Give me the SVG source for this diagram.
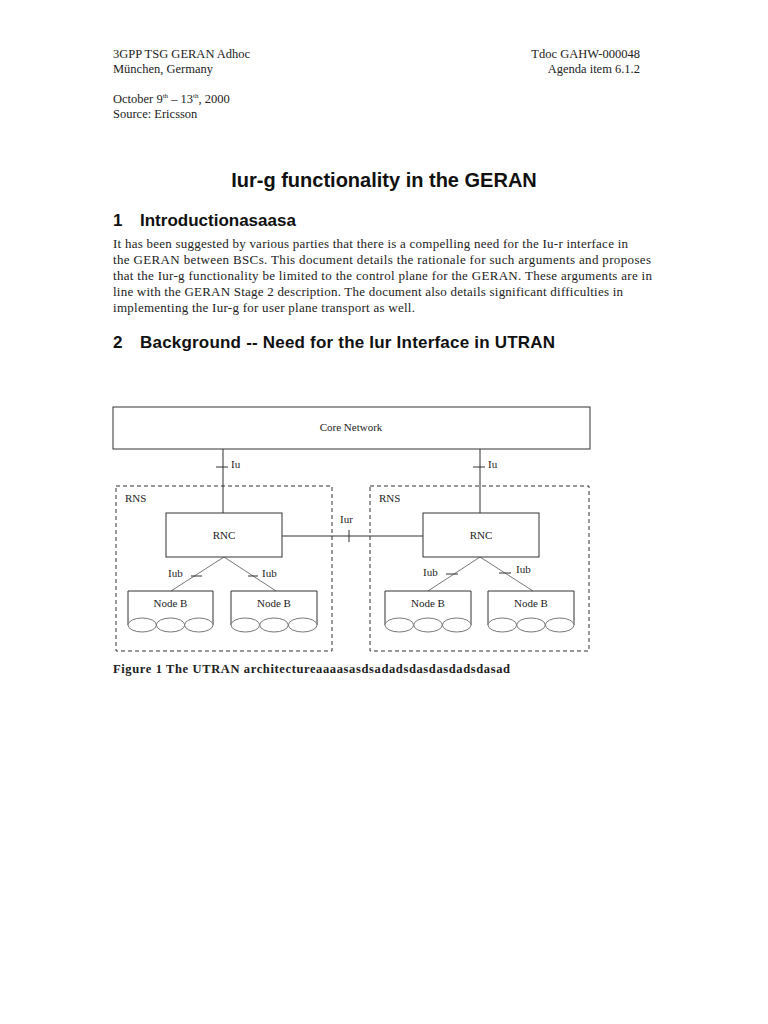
<svg xmlns="http://www.w3.org/2000/svg" width="768" height="1024" viewBox="0 0 768 1024">
<style>
.ser{font-family:"Liberation Serif","Times New Roman",serif;fill:#222}
.hdr{font-size:12.5px}
.body{font-size:13px}
.sans{font-family:"Liberation Sans",Arial,sans-serif;font-weight:bold;fill:#111}
.dg{font-family:"Liberation Serif","Times New Roman",serif;font-size:11px;fill:#222}
.box{fill:#fff;stroke:#333;stroke-width:1}
.ln{stroke:#333;stroke-width:1;fill:none}
.gl{stroke:#777;stroke-width:1;fill:none}
.dash{fill:none;stroke:#333;stroke-width:1;stroke-dasharray:4 3}
.ell{fill:#fff;stroke:#777;stroke-width:1}
</style>
<rect width="768" height="1024" fill="#fff"/>
<g id="header">
<text class="ser hdr" x="113" y="58">3GPP TSG GERAN Adhoc</text>
<text class="ser hdr" x="113" y="73">München, Germany</text>
<text class="ser hdr" x="640" y="58" text-anchor="end">Tdoc GAHW-000048</text>
<text class="ser hdr" x="640" y="73" text-anchor="end">Agenda item 6.1.2</text>
<text class="ser hdr" x="113" y="103">October 9<tspan font-size="7" dy="-5">th</tspan><tspan dy="5"> – 13</tspan><tspan font-size="7" dy="-5">th</tspan><tspan dy="5">, 2000</tspan></text>
<text class="ser hdr" x="113" y="118">Source: Ericsson</text>
</g>
<g id="title">
<text class="sans" x="384" y="187" font-size="20" text-anchor="middle">Iur-g functionality in the GERAN</text>
</g>
<g id="section1">
<text class="sans" x="113" y="226" font-size="17">1</text>
<text class="sans" x="140" y="226" font-size="17">Introductionasaasa</text>
<text class="ser body" x="113" y="248" textLength="515" lengthAdjust="spacing">It has been suggested by various parties that there is a compelling need for the Iu-r interface in</text>
<text class="ser body" x="113" y="264" textLength="538" lengthAdjust="spacing">the GERAN between BSCs. This document details the rationale for such arguments and proposes</text>
<text class="ser body" x="113" y="280" textLength="539" lengthAdjust="spacing">that the Iur-g functionality be limited to the control plane for the GERAN. These arguments are in</text>
<text class="ser body" x="113" y="296" textLength="510" lengthAdjust="spacing">line with the GERAN Stage 2 description. The document also details significant difficulties in</text>
<text class="ser body" x="113" y="312" textLength="302" lengthAdjust="spacing">implementing the Iur-g for user plane transport as well.</text>
</g>
<g id="section2">
<text class="sans" x="113" y="348" font-size="17">2</text>
<text class="sans" x="140" y="348" font-size="17" textLength="415" lengthAdjust="spacing">Background -- Need for the Iur Interface in UTRAN</text>
</g>
<g id="connectors">
<line class="ln" x1="223" y1="449" x2="223" y2="513"/>
<line class="ln" x1="216" y1="467" x2="228" y2="467"/>
<line class="ln" x1="480" y1="449" x2="480" y2="513"/>
<line class="ln" x1="473" y1="467" x2="485" y2="467"/>
<line class="ln" x1="282" y1="536" x2="423" y2="536"/>
<line class="ln" x1="349" y1="530" x2="349" y2="542"/>
<line class="gl" x1="224" y1="557" x2="171" y2="591"/>
<line class="gl" x1="224" y1="557" x2="276" y2="591"/>
<line class="ln" x1="191" y1="576" x2="202" y2="576"/>
<line class="ln" x1="248" y1="576" x2="258" y2="576"/>
<line class="gl" x1="480" y1="557" x2="428" y2="591"/>
<line class="gl" x1="480" y1="557" x2="533" y2="591"/>
<line class="ln" x1="446" y1="574" x2="458" y2="574"/>
<line class="ln" x1="499" y1="573" x2="511" y2="573"/>
<text class="dg" x="231" y="468">Iu</text>
<text class="dg" x="488" y="468">Iu</text>
<text class="dg" x="340" y="523">Iur</text>
<text class="dg" x="168" y="577">Iub</text>
<text class="dg" x="262" y="577">Iub</text>
<text class="dg" x="423" y="576">Iub</text>
<text class="dg" x="516" y="573">Iub</text>
</g>
<g id="core-network">
<rect class="box" x="113" y="407" width="477" height="42"/>
<text class="dg" x="351" y="431" text-anchor="middle">Core Network</text>
</g>
<g id="rns-left">
<rect class="dash" x="116" y="486" width="216" height="165"/>
<text class="dg" x="125" y="502">RNS</text>
</g>
<g id="rns-right">
<rect class="dash" x="370" y="486" width="219" height="165"/>
<text class="dg" x="379" y="502">RNS</text>
</g>
<g id="rnc-left">
<rect class="box" x="166" y="513" width="116" height="44"/>
<text class="dg" x="224" y="539" text-anchor="middle">RNC</text>
</g>
<g id="rnc-right">
<rect class="box" x="423" y="513" width="116" height="44"/>
<text class="dg" x="481" y="539" text-anchor="middle">RNC</text>
</g>
<g id="nodeb-1">
<path class="ln" d="M128,625 V591 H213 V625"/>
<ellipse class="ell" cx="142.2" cy="625" rx="14.2" ry="7"/>
<ellipse class="ell" cx="170.5" cy="625" rx="14.2" ry="7"/>
<ellipse class="ell" cx="198.8" cy="625" rx="14.2" ry="7"/>
<text class="dg" x="170.5" y="607" text-anchor="middle">Node B</text>
</g>
<g id="nodeb-2">
<path class="ln" d="M231,625 V591 H317 V625"/>
<ellipse class="ell" cx="245.3" cy="625" rx="14.3" ry="7"/>
<ellipse class="ell" cx="274" cy="625" rx="14.3" ry="7"/>
<ellipse class="ell" cx="302.7" cy="625" rx="14.3" ry="7"/>
<text class="dg" x="274" y="607" text-anchor="middle">Node B</text>
</g>
<g id="nodeb-3">
<path class="ln" d="M385,625 V591 H471 V625"/>
<ellipse class="ell" cx="399.3" cy="625" rx="14.3" ry="7"/>
<ellipse class="ell" cx="428" cy="625" rx="14.3" ry="7"/>
<ellipse class="ell" cx="456.7" cy="625" rx="14.3" ry="7"/>
<text class="dg" x="428" y="607" text-anchor="middle">Node B</text>
</g>
<g id="nodeb-4">
<path class="ln" d="M488,625 V591 H574 V625"/>
<ellipse class="ell" cx="502.3" cy="625" rx="14.3" ry="7"/>
<ellipse class="ell" cx="531" cy="625" rx="14.3" ry="7"/>
<ellipse class="ell" cx="559.7" cy="625" rx="14.3" ry="7"/>
<text class="dg" x="531" y="607" text-anchor="middle">Node B</text>
</g>
<g id="caption">
<text class="ser" x="113" y="673" font-size="12.5" font-weight="bold" textLength="397" lengthAdjust="spacing">Figure 1 The UTRAN architectureaaaasasdsadadsdasdasdadsdasad</text>
</g>
</svg>
